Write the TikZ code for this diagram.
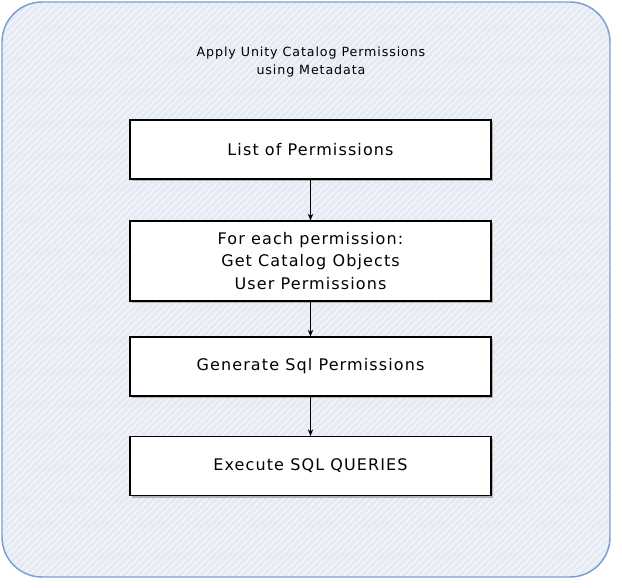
\documentclass[tikz,border=0pt]{standalone}
\usepackage{fontspec}
\setmainfont{DejaVu Sans}[LetterSpace=7]
\usetikzlibrary{arrows.meta,shadows}
\definecolor{panelfill}{HTML}{E5EAF4}
\definecolor{panelline}{HTML}{7C9FD1}
\tikzset{
  stepbox/.style={draw=black, fill=white, line width=0.8pt, minimum width=270.75pt,
    minimum height=44.25pt, align=center, font=\fontsize{12}{17}\selectfont,
    drop shadow={shadow xshift=1.2pt, shadow yshift=-1.8pt, fill=black!45, opacity=0.6}},
  flow/.style={-{Stealth[length=5pt,width=4pt]}, line width=0.6pt}
}
\begin{document}
\begin{tikzpicture}[x=0.75pt, y=-0.75pt]
  \useasboundingbox (0,0) rectangle (622,587);
  % panel
  \begin{scope}
    \clip[rounded corners=30pt] (2,2) rectangle (610,577);
    \fill[panelfill] (0,0) rectangle (622,587);
    \foreach \i in {0,7,...,1260}
      \draw[white, line width=0.6pt, opacity=0.8] (\i-640,620) -- (\i,0);
  \end{scope}
  \draw[panelline, line width=1.1pt, rounded corners=30pt] (2,2) rectangle (610,577);
  % title
  \node[align=center, font=\fontsize{9.5}{14}\selectfont] (title) at (311,62)
    {Apply Unity Catalog Permissions\\using Metadata};
  % steps
  \node[stepbox] (perms) at (310.5,149.5) {List of Permissions};
  \node[stepbox, minimum height=60pt] (objects) at (310.5,261)
    {For each permission:\\Get Catalog Objects\\User Permissions};
  \node[stepbox] (gensql) at (310.5,366.5) {Generate Sql Permissions};
  \node[stepbox] (exec) at (310.5,466) {Execute SQL QUERIES};
  % connectors
  \draw[flow] (perms) -- (objects);
  \draw[flow] (objects) -- (gensql);
  \draw[flow] (gensql) -- (exec);
\end{tikzpicture}
\end{document}
